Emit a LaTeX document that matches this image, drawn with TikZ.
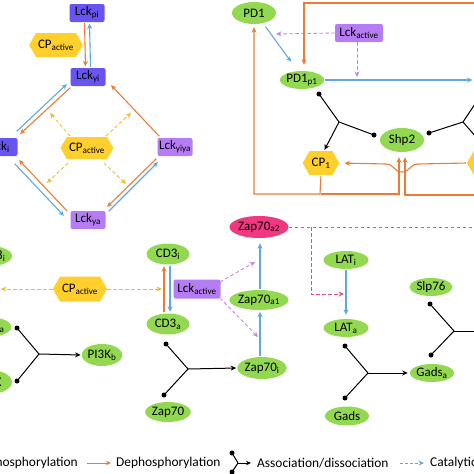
\documentclass[tikz,border=0pt]{standalone}
\usepackage{fontspec}
\setmainfont{Carlito}
\usetikzlibrary{shapes.geometric,shapes.symbols,arrows.meta}
\definecolor{ngreen}{RGB}{146,216,80}
\definecolor{lckdark}{RGB}{104,84,240}
\definecolor{lcklight}{RGB}{182,124,244}
\definecolor{hexy}{RGB}{255,208,45}
\definecolor{zpink}{RGB}{240,56,128}
\definecolor{corange}{RGB}{234,124,56}
\definecolor{cblue}{RGB}{96,168,226}
\definecolor{cdy}{RGB}{236,190,40}
\definecolor{cdp}{RGB}{196,134,232}
\definecolor{cdm}{RGB}{226,80,138}
\begin{document}
\begin{tikzpicture}[x=1pt,y=-1pt,
  font=\fontsize{13}{15}\selectfont,
  gnode/.style={ellipse, fill=ngreen, inner sep=0pt, minimum width=44pt, minimum height=20pt},
  pnode/.style={ellipse, fill=zpink, inner sep=0pt, minimum width=54pt, minimum height=22pt},
  lckd/.style={rectangle, rounded corners=2pt, fill=lckdark, inner sep=1pt, minimum width=35pt, minimum height=18pt},
  lckl/.style={rectangle, rounded corners=2pt, fill=lcklight, inner sep=1pt, minimum width=35pt, minimum height=18pt},
  hexa/.style={signal, signal to=east and west, signal pointer angle=120, fill=hexy, inner xsep=2pt, inner ysep=1pt, minimum height=24pt, minimum width=52pt},
  tip/.style={-{Stealth[length=5.5pt,width=5pt]}},
  ph/.style={draw=cblue, line width=1.1pt, tip, shorten <=1pt, shorten >=1.5pt},
  deph/.style={draw=corange, line width=1.1pt, tip, shorten <=1pt, shorten >=1.5pt},
  caty/.style={draw=cdy, line width=0.9pt, dash pattern=on 3.5pt off 2.5pt, tip},
  catp/.style={draw=cdp, line width=0.9pt, dash pattern=on 3.5pt off 2.5pt, tip},
  catm/.style={draw=cdm, line width=0.9pt, dash pattern=on 3.5pt off 2.5pt, tip},
  catb/.style={draw=cblue, line width=0.9pt, dash pattern=on 3pt off 2pt, tip},
  asl/.style={draw=black, line width=1pt},
  asa/.style={draw=black, line width=1pt, tip, shorten >=1pt},
  dotf/.style={fill=black},
  lbl/.style={inner sep=0pt, font=\fontsize{13.4}{15}\selectfont}
]
\path[use as bounding box] (0,0) rectangle (474,474);
\clip (0,0) rectangle (474,474);

% ---------- top-left Lck cycle ----------
\node[lckd] (Lckpi) at (87,13) {Lck\textsubscript{pi}};
\node[hexa] (CPa1) at (56,45) {CP\textsubscript{active}};
\node[lckd] (Lckyi) at (88,77) {Lck\textsubscript{yi}};
\node[lckd] (Lcki) at (0,147) {Lck\textsubscript{i}};
\node[hexa, minimum height=22pt, minimum width=53pt] (CPa2) at (87,148) {CP\textsubscript{active}};
\node[lckl] (Lckyiya) at (175,147) {Lck\textsubscript{yiya}};
\node[lckl] (Lckya) at (88,220) {Lck\textsubscript{ya}};

\draw[deph] ([xshift=-2.5pt]Lckpi.south) -- ([xshift=-2.5pt]Lckyi.north);
\draw[ph] ([xshift=2.5pt]Lckyi.north) -- ([xshift=2.5pt]Lckpi.south);
\draw[ph] ([shift={(16,-15)}]Lcki.center) -- ([shift={(-20,6)}]Lckyi.center);
\draw[deph] ([shift={(-17,10)}]Lckyi.center) -- ([shift={(19,-12)}]Lcki.center);
\draw[deph] ([shift={(-15,-10)}]Lckyiya.center) -- ([shift={(22,7)}]Lckyi.center);
\draw[deph] ([shift={(-20,-8)}]Lckya.center) -- ([shift={(18,12)}]Lcki.center);
\draw[ph] ([shift={(14,16)}]Lcki.center) -- ([shift={(-23,-3)}]Lckya.center);
\draw[deph] ([shift={(-18,11)}]Lckyiya.center) -- ([shift={(18,-12)}]Lckya.center);
\draw[ph] ([shift={(20,-8)}]Lckya.center) -- ([shift={(-16,14)}]Lckyiya.center);

\coordinate (y1) at (50,113);
\coordinate (y2) at (131,113);
\coordinate (y3) at (47,183);
\coordinate (y4) at (126,184);
\draw[caty] ([shift={(-17,-12)}]CPa2.center) -- (y1);
\draw[caty] ([shift={(19,-12)}]CPa2.center) -- (y2);
\draw[caty] ([shift={(-19,15)}]CPa2.center) -- (y3);
\draw[caty] ([shift={(17,15)}]CPa2.center) -- (y4);

% ---------- top-right PD1 module ----------
\node[gnode, minimum height=22pt] (PD1) at (254,13) {PD1};
\node[lckl, minimum width=48pt] (Lckact1) at (359,33) {Lck\textsubscript{active}};
\node[gnode, minimum height=18pt] (PD1p1) at (302,80) {PD1\textsubscript{p1}};
\node[gnode, minimum height=24pt] (Shp2) at (402,140) {Shp2};
\node[hexa, minimum width=32pt] (CP1) at (321,163) {CP\textsubscript{1}};
\node[hexa, minimum width=52pt] (CP2) at (493,163) {};

\coordinate (k1) at (276,34);
\coordinate (k2) at (357,77);
\coordinate (k3) at (474,80);
\coordinate (k4) at (480,3);
\draw[ph] ([shift={(11,13)}]PD1.center) -- ([shift={(-10,-17)}]PD1p1.center);
\draw[catp] (Lckact1.west) -- (k1);
\draw[catp] ([xshift=-2pt]Lckact1.south) -- (k2);
\draw[ph] (PD1p1.east) -- (k3);
\draw[deph, shorten >=6pt] (k4) -| ([xshift=2pt]PD1p1.north);

\coordinate (a1) at (319,94);
\coordinate (a2) at (374,135);
\coordinate (j1) at (339,122);
\fill[dotf] (a1) circle (2.5);
\fill[dotf] (a2) circle (2.5);
\draw[asl] (a1) -- (j1);
\draw[asl] (a2) -- (j1);
\draw[asa] (j1) -- ([xshift=3pt]CP1.north);

\coordinate (a3) at (429,133);
\coordinate (j2) at (463,122);
\coordinate (e1) at (481,95);
\coordinate (e2) at (483,145);
\fill[dotf] (a3) circle (2.5);
\draw[asl] (a3) -- (j2);
\draw[asl] (j2) -- (e1);
\draw[asl] (j2) -- (e2);

\coordinate (bus1) at (320,194);
\coordinate (bus2) at (493,195);
\draw[deph, shorten >=3pt] (CP1.south) -- (bus1) -| (PD1.south);
\draw[deph, shorten >=5pt] (bus1) -| ([xshift=-3pt]Shp2.south);
\draw[deph, shorten >=5pt] (CP2.south) -- (bus2) -| ([xshift=3pt]Shp2.south);
\draw[deph, shorten >=5pt] (CP2.west) -- (418,164) .. controls (410,164) and (410,172) .. (402,172)
   .. controls (394,172) and (394,164) .. (386,164) -- (CP1.east);

% ---------- bottom-left CD28 / PI3K ----------
\node[gnode] (CD28i) at (-10,256) {CD28\textsubscript{i}};
\node[hexa, minimum width=51pt, minimum height=25pt] (CPa3) at (80,289) {CP\textsubscript{active}};
\node[gnode] (CD28a) at (-12,327) {CD28\textsubscript{a}};
\node[gnode, minimum height=24pt] (PI3K) at (-10,382) {PI3K};
\node[gnode, minimum width=40pt, minimum height=22pt] (PI3Kb) at (102,355) {PI3K\textsubscript{b}};
\coordinate (k8) at (1,289);
\coordinate (k9) at (162,289);
\draw[caty] (CPa3.west) -- (k8);
\draw[caty] (CPa3.east) -- (k9);
\coordinate (a4) at (17,328);
\coordinate (a5) at (17,381);
\coordinate (j3) at (39,354);
\fill[dotf] (a4) circle (2.5);
\fill[dotf] (a5) circle (2.5);
\draw[asl] (a4) -- (j3);
\draw[asl] (a5) -- (j3);
\draw[asa] (j3) -- (PI3Kb.west);

% ---------- CD3 / Zap70 ----------
\node[gnode, minimum width=43pt, minimum height=21pt] (CD3i) at (168,254) {CD3\textsubscript{i}};
\node[lckl, minimum width=47pt, minimum height=19pt] (Lckact2) at (197,289) {Lck\textsubscript{active}};
\node[gnode, minimum width=43pt, minimum height=21pt] (CD3a) at (168,324) {CD3\textsubscript{a}};
\node[gnode, minimum width=43pt] (Zap70) at (168,412) {Zap70};
\node[pnode] (Zap70a2) at (259,227) {Zap70\textsubscript{a2}};
\node[gnode, minimum width=53pt] (Zap70a1) at (259,300) {Zap70\textsubscript{a1}};
\node[gnode, minimum width=48pt, minimum height=22pt] (Zap70i) at (262,368) {Zap70\textsubscript{i}};

\draw[deph] ([xshift=-4pt]CD3a.north) -- ([xshift=-4pt]CD3i.south);
\draw[ph] ([xshift=2pt]CD3i.south) -- ([xshift=2pt]CD3a.north);
\coordinate (p1) at (255,262);
\coordinate (p2) at (258,337);
\draw[catp] ([shift={(23,-7)}]Lckact2.center) -- (p1);
\draw[catp] ([shift={(23,9)}]Lckact2.center) -- (p2);
\coordinate (a6) at (166,344);
\coordinate (a7) at (164,395);
\coordinate (j4) at (188,369);
\fill[dotf] (a6) circle (2.5);
\fill[dotf] (a7) circle (2.5);
\draw[asl] (a6) -- (j4);
\draw[asl] (a7) -- (j4);
\draw[asa] (j4) -- (Zap70i.west);
\draw[ph] ([xshift=-2pt]Zap70i.north) -- ([xshift=1pt]Zap70a1.south);
\draw[ph, shorten >=5pt] ([xshift=1pt]Zap70a1.north) -- ([xshift=1pt]Zap70a2.south);

% ---------- LAT / Gads / Slp76 ----------
\node[gnode, minimum width=45pt, minimum height=18pt] (LATi) at (346,260) {LAT\textsubscript{i}};
\node[gnode, minimum width=45pt, minimum height=18pt] (LATa) at (346,328) {LAT\textsubscript{a}};
\node[gnode, minimum height=19pt] (Gads) at (347,416) {Gads};
\node[gnode, minimum height=18pt] (Gadsa) at (432,373) {Gads\textsubscript{a}};
\node[gnode, minimum width=43pt, minimum height=18pt] (Slp76) at (431,287) {Slp76};

\coordinate (k5) at (480,227);
\coordinate (k6) at (311,227);
\coordinate (k7) at (344,294);
\draw[catm, -] (Zap70a2.east) -- (k5);
\draw[catm] (k6) |- (k7);
\draw[ph, shorten >=4pt] (LATi.south) -- (LATa.north);
\coordinate (a8) at (345,346);
\coordinate (a9) at (345,398);
\coordinate (j5) at (368,373);
\fill[dotf] (a8) circle (2.5);
\fill[dotf] (a9) circle (2.5);
\draw[asl] (a8) -- (j5);
\draw[asl] (a9) -- (j5);
\draw[asa, shorten >=2pt] (j5) -- (Gadsa.west);
\coordinate (a10) at (430,304);
\coordinate (a11) at (431,355);
\coordinate (j6) at (454,331);
\coordinate (k10) at (482,331);
\fill[dotf] (a10) circle (2.5);
\fill[dotf] (a11) circle (2.5);
\draw[asl] (a10) -- (j6);
\draw[asl] (a11) -- (j6);
\draw[asl] (j6) -- (k10);

% ---------- legend ----------
\node[lbl, anchor=east] (Lph) at (78,463) {Phosphorylation};
\coordinate (l1) at (87,463);
\coordinate (l2) at (111,463);
\draw[draw=corange, line width=1pt, -{Stealth[length=5pt,width=4.5pt]}] (l1) -- (l2);
\node[lbl, anchor=west] (Ldeph) at (116,463) {Dephosphorylation};
\coordinate (l3) at (232,453);
\coordinate (l4) at (232,472);
\coordinate (l5) at (238,463);
\coordinate (l6) at (251,463);
\fill[dotf] (l3) circle (2.5);
\fill[dotf] (l4) circle (2.5);
\draw[asl] (l3) -- (l5);
\draw[asl] (l4) -- (l5);
\draw[asl, -{Stealth[length=5pt,width=4.5pt]}] (l5) -- (l6);
\node[lbl, anchor=west] (Lass) at (257,463) {Association/dissociation};
\coordinate (l7) at (400,463);
\coordinate (l8) at (424,463);
\draw[catb] (l7) -- (l8);
\node[lbl, anchor=west] (Lcat) at (430,463) {Catalytic};
\end{tikzpicture}
\end{document}
